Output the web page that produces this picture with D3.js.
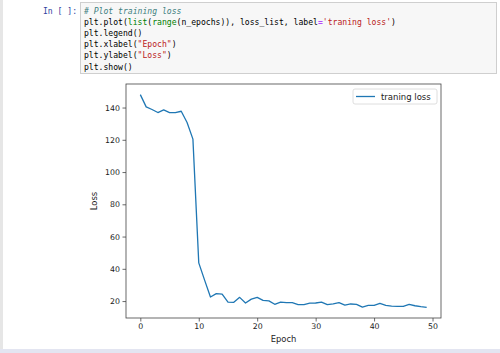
<!DOCTYPE html>
<html>
<head>
<meta charset="utf-8">
<script src="https://cdn.jsdelivr.net/npm/d3@7"></script>
<style>
  body { margin: 0; background: #fff; }
  svg { display: block; }
</style>
</head>
<body>
<div id="chart-area"></div>
<script>
// loss per epoch
var epochs = d3.range(50);
var lossList = [148.0, 140.4, 138.8, 136.9, 138.5, 136.9, 136.9, 137.7, 130.7, 120.4,
                43.7, 33.0, 22.5, 24.6, 24.3, 19.4, 19.2, 22.3, 18.8, 21.2,
                22.3, 20.4, 20.1, 18.0, 19.4, 19.0, 19.0, 17.8, 17.8, 18.7,
                18.8, 19.4, 17.8, 18.2, 19.0, 17.5, 18.2, 18.0, 16.3, 17.3,
                17.3, 18.6, 17.3, 16.9, 16.7, 16.7, 18.0, 17.1, 16.5, 16.1];
var xTicks = [0, 10, 20, 30, 40, 50];
var yTicks = [20, 40, 60, 80, 100, 120, 140];
var legendLabel = "traning loss";

var codeLines = [
  [["# Plot training loss", "#408080", "italic"]],
  [["plt.plot(", "#000"], ["list", "#008000"], ["(", "#000"], ["range", "#008000"], ["(n_epochs)), loss_list, label", "#000"], ["=", "#AA22FF"], ["'traning loss'", "#BA2121"], [")", "#000"]],
  [["plt.legend()", "#000"]],
  [["plt.xlabel(", "#000"], ["\"Epoch\"", "#BA2121"], [")", "#000"]],
  [["plt.ylabel(", "#000"], ["\"Loss\"", "#BA2121"], [")", "#000"]],
  [["plt.show()", "#000"]]
];

var width = 500, height = 353;
var margin = {top: 84, right: 59, bottom: 35, left: 126};
var plotW = width - margin.left - margin.right;
var plotH = height - margin.top - margin.bottom;

var svg = d3.select("#chart-area").append("svg").attr("width", width).attr("height", height);

// notebook chrome
svg.append("rect").attr("x", 0).attr("y", 0).attr("width", 3).attr("height", height).attr("fill", "#e6e6e6");
svg.append("rect").attr("x", 0).attr("y", 349).attr("width", width).attr("height", 4).attr("fill", "#e3e5f1");
svg.append("rect").attr("x", 80.5).attr("y", 2.5).attr("width", 416).attr("height", 71)
   .attr("fill", "#f7f7f7").attr("stroke", "#cfcfcf");

var mono = "'DejaVu Sans Mono', 'Liberation Mono', monospace";
svg.append("text").attr("x", 43).attr("y", 14).attr("font-family", mono).attr("font-size", "8.1px")
   .attr("fill", "#303F9F").text("In [ ]:");

codeLines.forEach((line, i) => {
    var t = svg.append("text").attr("x", 84).attr("y", 14 + i * 11.1)
               .attr("font-family", mono).attr("font-size", "8.1px").attr("xml:space", "preserve");
    line.forEach((part) => {
        t.append("tspan").attr("fill", part[1]).attr("font-style", part[2] || "normal").text(part[0]);
    });
});

// plot
var g = svg.append("g").attr("transform", "translate(" + margin.left + ", " + margin.top + ")");

var xExt = d3.extent(epochs), yExt = d3.extent(lossList);
var xPad = (xExt[1] - xExt[0]) * 0.05, yPad = (yExt[1] - yExt[0]) * 0.05;
var x = d3.scaleLinear().domain([xExt[0] - xPad, xExt[1] + xPad]).range([0, plotW]);
var y = d3.scaleLinear().domain([yExt[0] - yPad, yExt[1] + yPad]).range([plotH, 0]);

var line = d3.line().x((d, i) => x(epochs[i])).y((d) => y(d));
g.append("path").datum(lossList).attr("d", line).attr("fill", "none")
 .attr("stroke", "#1f77b4").attr("stroke-width", 1.3).attr("stroke-linejoin", "round");

g.append("rect").attr("width", plotW).attr("height", plotH).attr("fill", "none")
 .attr("stroke", "#444").attr("stroke-width", 0.8);

var sans = "'DejaVu Sans', sans-serif";
var xAxis = d3.axisBottom(x).tickValues(xTicks).tickSize(3.5).tickPadding(2);
g.append("g").attr("transform", "translate(0, " + plotH + ")").call(xAxis)
 .call((s) => s.select(".domain").remove())
 .call((s) => s.selectAll("line").attr("stroke", "#444").attr("stroke-width", 0.8))
 .call((s) => s.selectAll("text").attr("fill", "#222").attr("font-family", sans).attr("font-size", "7.8px"));

var yAxis = d3.axisLeft(y).tickValues(yTicks).tickSize(3.5).tickPadding(2.5);
g.append("g").call(yAxis)
 .call((s) => s.select(".domain").remove())
 .call((s) => s.selectAll("line").attr("stroke", "#444").attr("stroke-width", 0.8))
 .call((s) => s.selectAll("text").attr("fill", "#222").attr("font-family", sans).attr("font-size", "7.8px"));

g.append("text").attr("x", plotW / 2).attr("y", plotH + 24).attr("text-anchor", "middle")
 .attr("font-family", sans).attr("font-size", "8.4px").attr("fill", "#222").text("Epoch");

g.append("text").attr("transform", "rotate(-90)").attr("x", -plotH / 2).attr("y", -29)
 .attr("text-anchor", "middle").attr("font-family", sans).attr("font-size", "8.4px").attr("fill", "#222").text("Loss");

// legend
var lg = g.append("g").attr("transform", "translate(" + (plotW - 88) + ", 5)");
lg.append("rect").attr("width", 84).attr("height", 15).attr("rx", 2).attr("fill", "#fff")
  .attr("stroke", "#d6d6d6").attr("stroke-width", 0.8);
lg.append("line").attr("x1", 3).attr("x2", 22).attr("y1", 7.5).attr("y2", 7.5)
  .attr("stroke", "#1f77b4").attr("stroke-width", 1.3);
lg.append("text").attr("x", 28).attr("y", 10.5).attr("font-family", sans).attr("font-size", "8.5px")
  .attr("fill", "#222").text(legendLabel);
</script>
</body>
</html>
